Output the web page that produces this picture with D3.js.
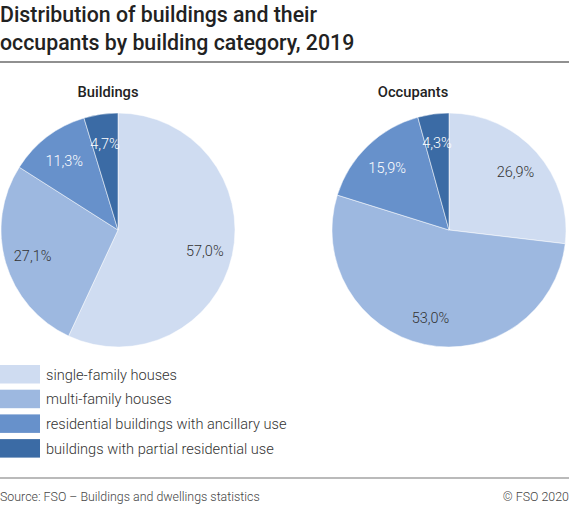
<!DOCTYPE html>
<html lang="en">
<head>
  <meta charset="UTF-8">
  <title>Distribution of buildings and their occupants</title>
  <script src="https://d3js.org/d3.v7.min.js"></script>
  <style>
    body {
      margin: 0;
      background: #fff;
      font-family: Roboto, 'Noto Sans', sans-serif;
    }
    .title {
      font-size: 21.3px;
      font-weight: 500;
      fill: #222;
    }
    .pie-title {
      font-size: 14.7px;
      font-weight: 500;
      fill: #222;
      text-anchor: middle;
    }
    .slice-label {
      font-size: 14.5px;
      font-weight: 300;
      text-anchor: middle;
    }
    .legend-text {
      font-size: 14.6px;
      font-weight: 300;
      fill: #333;
    }
    .footer {
      font-size: 12.4px;
      font-weight: 300;
      fill: #444;
    }
  </style>
</head>
<body>
  <svg id="chart" width="569" height="505"></svg>

  <script>
    const categories = [
      'single-family houses',
      'multi-family houses',
      'residential buildings with ancillary use',
      'buildings with partial residential use'
    ];
    const buildings = [57.0, 27.1, 11.3, 4.7];
    const occupants = [26.9, 53.0, 15.9, 4.3];
    const colors = ['#cfdcf1', '#9db8e0', '#6791cb', '#3b6ba5'];
    const labelColors = ['#333', '#333', '#fff', '#fff'];

    const width = 569, height = 505;
    const svg = d3.select('#chart');

    // title
    const title = svg.append('text').attr('class', 'title');
    title.append('tspan').attr('x', 0).attr('y', 22).text('Distribution of buildings and their');
    title.append('tspan').attr('x', 0).attr('y', 50).text('occupants by building category, 2019');

    svg.append('line')
      .attr('x1', 0).attr('x2', width)
      .attr('y1', 62).attr('y2', 62)
      .attr('stroke', '#222').attr('stroke-width', 1.2);

    const color = d3.scaleOrdinal(categories, colors);
    const textColor = d3.scaleOrdinal(categories, labelColors);
    const fmt = v => d3.format('.1f')(v).replace('.', ',') + '%';

    const radius = 117;
    const pie = d3.pie().sort(null).value(d => d.value);
    const arc = d3.arc().innerRadius(0).outerRadius(radius);
    const labelArc = d3.arc().innerRadius(radius * 0.76).outerRadius(radius * 0.76);

    const pies = [
      { name: 'Buildings', values: buildings, cx: 118, titleX: 108 },
      { name: 'Occupants', values: occupants, cx: 449, titleX: 413 }
    ];

    pies.forEach(p => {
      svg.append('text')
        .attr('class', 'pie-title')
        .attr('x', p.titleX).attr('y', 97)
        .text(p.name);

      const g = svg.append('g').attr('transform', `translate(${p.cx},230)`);
      const data = pie(categories.map((c, i) => ({ label: c, value: p.values[i] })));

      g.selectAll('path')
        .data(data)
        .enter().append('path')
        .attr('d', arc)
        .attr('fill', d => color(d.data.label))
        .attr('stroke', '#fff')
        .attr('stroke-width', 0.5);

      g.selectAll('.slice-label')
        .data(data)
        .enter().append('text')
        .attr('class', 'slice-label')
        .attr('transform', d => `translate(${labelArc.centroid(d)})`)
        .attr('dy', '0.45em')
        .attr('fill', d => textColor(d.data.label))
        .text(d => fmt(d.data.value));
    });

    // legend
    const legend = svg.append('g').attr('transform', 'translate(0,365)');
    const row = legend.selectAll('g')
      .data(categories)
      .enter().append('g')
      .attr('transform', (d, i) => `translate(0,${i * 24.7})`);
    row.append('rect')
      .attr('width', 40).attr('height', 18.5)
      .attr('fill', d => color(d));
    row.append('text')
      .attr('class', 'legend-text')
      .attr('x', 46).attr('y', 9.5)
      .attr('dy', '0.35em')
      .text(d => d);

    // footer
    svg.append('line')
      .attr('x1', 0).attr('x2', width)
      .attr('y1', 478).attr('y2', 478)
      .attr('stroke', '#777').attr('stroke-width', 1.2);
    svg.append('text')
      .attr('class', 'footer')
      .attr('x', 0).attr('y', 501)
      .text('Source: FSO – Buildings and dwellings statistics');
    svg.append('text')
      .attr('class', 'footer')
      .attr('x', width).attr('y', 501)
      .attr('text-anchor', 'end')
      .text('© FSO 2020');
  </script>
</body>
</html>
